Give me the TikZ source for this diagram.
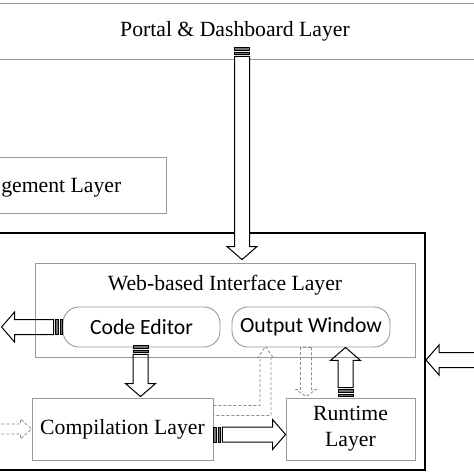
\documentclass[tikz,border=0pt]{standalone}
\usepackage{fontspec}
\setmainfont{Liberation Serif}
\newfontfamily\uisans{Carlito}
\usetikzlibrary{calc}

\newcommand{\layerfont}{\fontsize{21.7}{26}\selectfont}
% point #1 along the arrow and #2 to the side of it
\newcommand{\arpt}[2]{({\x1+\n2*(#1)-\n3*(#2)},{\y1+\n3*(#1)+\n2*(#2)})}
% block arrow from #2 to #3: tail #4, half shaft #5, half head #6, head length #7
\newcommand{\arrowshape}[7][]{%
  \draw[#1] let \p1=(#2), \p2=(#3), \n1={veclen(\x2-\x1,\y2-\y1)},
      \n2={(\x2-\x1)/\n1}, \n3={(\y2-\y1)/\n1} in
    \arpt{#4}{#5} -- \arpt{\n1-#7}{#5} -- \arpt{\n1-#7}{#6} -- \arpt{\n1}{0}
    -- \arpt{\n1-#7}{-#6} -- \arpt{\n1-#7}{-#5} -- \arpt{#4}{-#5} -- cycle;}
% the two bands at the tail
\newcommand{\arrowbands}[2]{%
  \draw[arrowband] let \p1=(#1), \p2=(#2), \n1={veclen(\x2-\x1,\y2-\y1)},
      \n2={(\x2-\x1)/\n1}, \n3={(\y2-\y1)/\n1} in
    \arpt{0}{7.5} -- \arpt{2.5}{7.5} -- \arpt{2.5}{-7.5} -- \arpt{0}{-7.5} -- cycle
    \arpt{4.5}{7.5} -- \arpt{7}{7.5} -- \arpt{7}{-7.5} -- \arpt{4.5}{-7.5} -- cycle;}
\newcommand{\blockarrow}[3][]{\arrowshape[barrow,#1]{#2}{#3}{9}{7.5}{15}{13}\arrowbands{#2}{#3}}

\begin{document}
\begin{tikzpicture}[x=1pt, y=-1pt,
    layer/.style={draw=black!40, line width=0.9pt, font=\layerfont, inner sep=0pt},
    uibox/.style={draw=black!40, line width=0.9pt, rounded corners=16pt, font=\uisans\layerfont, inner sep=0pt},
    barrow/.style={draw=black, line width=1pt, line join=miter},
    arrowband/.style={draw=black, line width=0.6pt, fill=black!55},
    dasharrow/.style={draw=black!45, line width=0.8pt, dash pattern=on 3pt off 2pt}]
  \useasboundingbox (0,0) rectangle (474,474);
  \clip (0,0) rectangle (474,474);

  % layers
  \node[layer, minimum width=540pt, minimum height=56pt] (pd) at (235,31) {Portal \& Dashboard Layer};
  \node[layer, minimum width=261pt, minimum height=56pt] (mg) at (35.5,185) {};
  \node[font=\layerfont, inner sep=0pt, anchor=base east] (mgt) at ($(mg.east)+(-45,7)$) {gement Layer};
  \node[draw, line width=2pt, minimum width=525pt, minimum height=237pt, inner sep=0pt] (ws) at (162.5,351.5) {};
  \node[layer, minimum width=380pt, minimum height=94pt] (wb) at (225,310) {};
  \node[font=\layerfont, inner sep=0pt] (wt) at (225,285) {Web-based Interface Layer};
  \node[uibox, minimum width=157pt, minimum height=40pt] (ce) at (141.5,327) {Code Editor};
  \node[uibox, minimum width=158pt, minimum height=40pt] (ow) at (311,327) {Output Window};
  \node[layer, minimum width=181pt, minimum height=62pt] (cl) at (122.5,429) {Compilation Layer};
  \node[layer, minimum width=129pt, minimum height=62pt, align=center] (rt) at (350.5,429) {Runtime\\Layer};

  % arrow ends
  \coordinate (pdout) at ($(pd.south)+(7,-12)$);
  \coordinate (wbin) at ($(wb.north)+(17,-3)$);
  \coordinate (ceout) at ($(ce.west)+(-61,0)$);
  \coordinate (cedown) at ($(ce.south)+(-1,-2)$);
  \coordinate (clin) at ($(cedown |- cl.north)+(0,-1)$);
  \coordinate (clout) at ($(cl.east)+(0,5.5)$);
  \coordinate (rtin) at ($(rt.west)+(0,5.5)$);
  \coordinate (rtout) at ($(rt.north)+(-5,-1)$);
  \coordinate (owin) at (rtout |- ow.south);
  \coordinate (owout) at ($(ow.south)+(-5,0)$);
  \coordinate (rtdash) at ($(owout |- rt.north)+(0,-1)$);
  \coordinate (clfar) at ($(cl.west)+(-50,0)$);
  \coordinate (wsin) at ($(ws.east)+(0,8.5)$);
  \coordinate (wsfar) at ($(wsin)+(80,0)$);

  % block arrows
  \blockarrow[fill=white]{pdout}{wbin}
  \blockarrow{ce.west}{ceout}
  \blockarrow{cedown}{clin}
  \blockarrow{clout}{rtin}
  \blockarrow{rtout}{owin}
  \arrowshape[barrow]{wsfar}{wsin}{0}{7.5}{15}{13}

  % dashed arrows
  \arrowshape[dasharrow]{owout}{rtdash}{0}{5.5}{10}{7}
  \arrowshape[dasharrow]{clfar}{cl.west}{0}{5}{10}{11}
  \draw[dasharrow] ($(cl.north east)+(0,8)$) -| ($(ow.south)+(-51,10)$) -- ++(-2,0)
    -- ++(7.5,-11) -- ++(7.5,11) -- ++(-2,0) |- ($(cl.north east)+(0,18)$);
\end{tikzpicture}
\end{document}
